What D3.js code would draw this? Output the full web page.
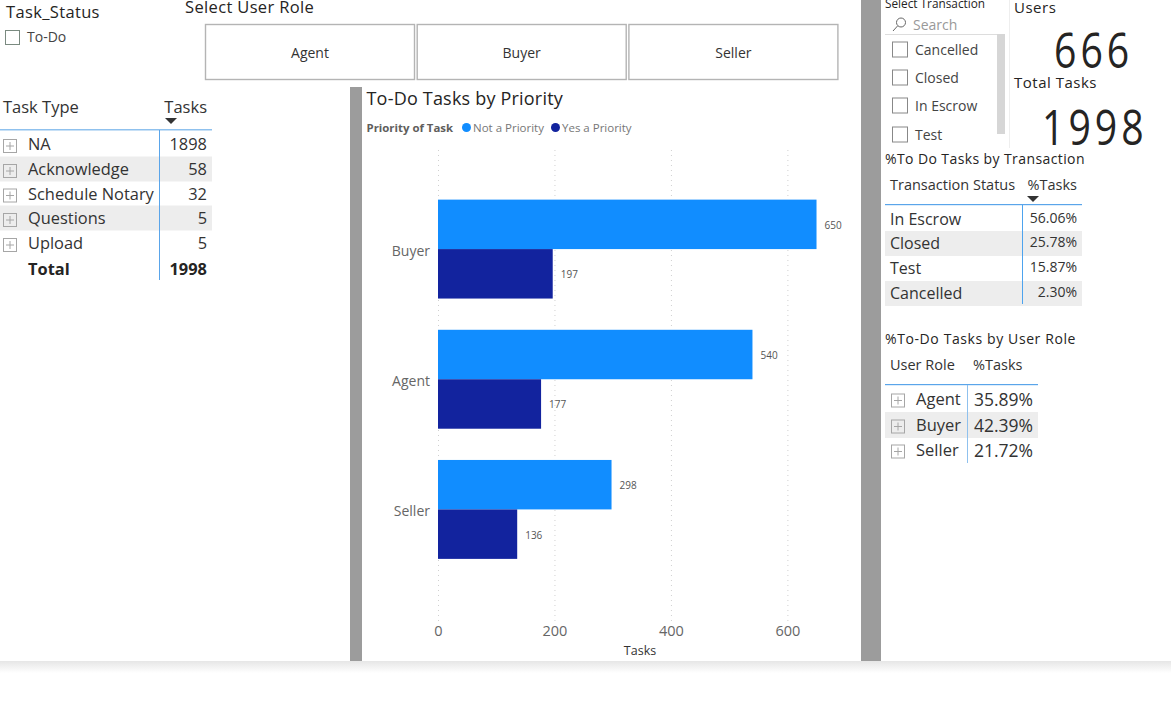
<!DOCTYPE html>
<html><head><meta charset="utf-8">
<script src="https://cdn.jsdelivr.net/npm/d3@7"></script>
<style>html,body{margin:0;padding:0;background:#fff;overflow:hidden}svg{display:block}text{font-family:"Open Sans",sans-serif}</style>
</head><body><svg id="c" width="1171" height="705"></svg>
<script>
const roles=["Buyer","Agent","Seller"];
const notPriority=[650,540,298];
const yesPriority=[197,177,136];
const xTicks=[0,200,400,600];
const roleButtons=["Agent","Buyer","Seller"];
const taskTypes=["NA","Acknowledge","Schedule Notary","Questions","Upload"];
const taskCounts=[1898,58,32,5,5];
const txStatus=["In Escrow","Closed","Test","Cancelled"];
const txPct=["56.06%","25.78%","15.87%","2.30%"];
const txOptions=["Cancelled","Closed","In Escrow","Test"];
const rolePctNames=["Agent","Buyer","Seller"];
const rolePct=["35.89%","42.39%","21.72%"];
const DIN='Roboto,sans-serif', SEG='"Open Sans",sans-serif';
const svg=d3.select("#c");
function T(x,y,s,size,o={}){return svg.append("text").attr("x",x).attr("y",y).text(s).attr("font-size",size)
  .attr("font-family",o.f||SEG).attr("fill",o.c||"#333").attr("text-anchor",o.a||"start").attr("font-weight",o.w||400)
  .attr("letter-spacing",o.ls||null);}
function R(x,y,w,h,fill,o={}){return svg.append("rect").attr("x",x).attr("y",y).attr("width",w).attr("height",h).attr("fill",fill)
  .attr("stroke",o.s||null).attr("stroke-width",o.sw||null);}
function plus(x,y){R(x+.5,y+.5,13,13,"none",{s:"#a6a6a6",sw:1});
  svg.append("path").attr("d",`M${x+3} ${y+7}H${x+11}M${x+7} ${y+3}V${y+11}`).attr("stroke","#a6a6a6").attr("fill","none");}
function caret(x,y){svg.append("path").attr("d",`M${x-6} ${y}H${x+6}L${x} ${y+6}Z`).attr("fill","#333");}
// Large card number: condensed digits with open spacing, like the reference face
function big(x,y,s){T(0,0,s,49,{f:DIN,c:"#252423",w:500,ls:5}).attr("transform",`translate(${x},${y}) scale(.8,1)`);}
// page footer shadow
const g=svg.append("defs").append("linearGradient").attr("id","sh").attr("x2",0).attr("y2",1);
g.append("stop").attr("offset",0).attr("stop-color","#e6e6e6");g.append("stop").attr("offset",1).attr("stop-color","#fff");
R(0,661,1171,12,"url(#sh)");
// separators
R(350,87,12,574,"#9c9c9c");
R(861,0,20,87,"#9c9c9c");R(861,87,20,574,"#9c9c9c");
// Task status slicer
T(6,18,"Task_Status",16.5,{f:DIN,c:"#252423",ls:.35});
R(5.5,30.5,14,14,"#fff",{s:"#7a8a80",sw:1});
T(27,42,"To-Do",14,{c:"#444"});
// Role slicer
T(185,13,"Select User Role",16.5,{f:DIN,c:"#252423",ls:.35});
roleButtons.forEach((d,i)=>{const x=205.5+i*211.7;R(x,24.5,209,55,"#fff",{s:"#b4b4b4",sw:1.4});
  T(x+104.5,58,d,14,{a:"middle",c:"#333"});});
// Task table
T(3,113,"Task Type",16.5);T(207,113,"Tasks",16.5,{a:"end"});caret(171,118);
R(0,129,212,1.5,"#8fc1ee");
const rowY=[144,169,193.5,218,243];
taskTypes.forEach((d,i)=>{ if(i%2)R(0,rowY[i]-12.5,212,25,"#ededed");
  plus(3,rowY[i]-5);T(28,rowY[i]+6,d,16.4,{c:"#333"});T(207,rowY[i]+6,taskCounts[i],16.4,{a:"end",c:"#333"});});
T(28,275,"Total",16.4,{w:700,c:"#252423"});T(207,275,String(d3.sum(taskCounts)),16.4,{a:"end",w:700,c:"#252423"});
R(159,130,1,150,"#5aa5ea");
// Chart
T(366.5,105,"To-Do Tasks by Priority",18,{f:DIN,c:"#252423",ls:.2});
T(366.5,132,"Priority of Task",11.4,{w:700,c:"#605e5c"});
svg.append("circle").attr("cx",466.5).attr("cy",127.5).attr("r",4.5).attr("fill","#118dff");
T(473,132,"Not a Priority",11.5,{c:"#777"});
svg.append("circle").attr("cx",555.5).attr("cy",127.5).attr("r",4.5).attr("fill","#12239e");
T(562,132,"Yes a Priority",11.5,{c:"#777"});
const x=d3.scaleLinear().domain([0,600]).range([438,787.4]);
const y=d3.scaleBand().domain(roles).range([184,574.5]).paddingInner(.24).paddingOuter(.12);
const plot=svg.append("g");
const xa=d3.axisBottom(x).tickValues(xTicks).tickSize(472).tickPadding(0).tickFormat(d3.format("d"));
const gx=plot.append("g").attr("transform","translate(0,150)").call(xa);
gx.select(".domain").remove();
gx.selectAll("line").attr("stroke","#d0d0d0").attr("stroke-dasharray","1,4");
gx.selectAll("text").attr("y",486).attr("dy",0).attr("font-size",14.5).attr("fill","#666").attr("font-family",SEG);
const ya=d3.axisLeft(y).tickSize(0).tickPadding(8);
const gy=plot.append("g").attr("transform","translate(438,2)").call(ya);
gy.select(".domain").remove();
gy.selectAll("text").attr("font-size",14).attr("fill","#666").attr("font-family",SEG);
const bh=y.bandwidth()/2;
[[notPriority,"#118dff",0],[yesPriority,"#12239e",1]].forEach(([vals,col,k])=>{
  plot.selectAll(null).data(roles).join("rect").attr("x",x(0)).attr("y",r=>y(r)+k*bh)
    .attr("width",(r,i)=>x(vals[i])-x(0)).attr("height",bh).attr("fill",col);
  plot.selectAll(null).data(roles).join("text").attr("x",(r,i)=>x(vals[i])+8).attr("y",r=>y(r)+k*bh+bh/2+4.5)
    .text((r,i)=>vals[i]).attr("font-size",10).attr("fill","#555");
});
T(640,655,"Tasks",12.5,{f:DIN,a:"middle",c:"#333",w:500});
// Transaction slicer
T(885,8,"Select Transaction",11.8,{f:DIN,c:"#252423"});
svg.append("circle").attr("cx",901).attr("cy",22.5).attr("r",4.5).attr("fill","none").attr("stroke","#666");
svg.append("path").attr("d","M897.5 26L893 31").attr("stroke","#666").attr("fill","none");
T(913,30,"Search",14,{c:"#999"});
R(885,34,120,1,"#ddd");
R(997,34,8,100,"#d6d6d6");
const optY=[49.5,77.5,105.5,134.5];
txOptions.forEach((d,i)=>{R(892.5,optY[i]-7.5,15,15,"#fff",{s:"#888",sw:1});T(915,optY[i]+5,d,14,{c:"#444"});});
R(1009,0,1,148,"#eee");
// Cards
T(1014,13,"Users",15,{f:DIN,c:"#252423",ls:.5});
big(1054,68,"666");
T(1014,88,"Total Tasks",15,{f:DIN,c:"#252423",ls:.5});
big(1042,145,"1998");
// Transaction table
T(885,164,"%To Do Tasks by Transaction",14,{f:DIN,c:"#252423",w:500,ls:.4});
T(890,190,"Transaction Status",14.5);T(1077,190,"%Tasks",14.5,{a:"end"});caret(1033,196);
R(885,204,197,1.2,"#5aa5ea");
const tY=[219,243,268,293];
txStatus.forEach((d,i)=>{if(i%2)R(885,tY[i]-12,197,25,"#ededed");
  T(890,tY[i]+6,d,16,{c:"#333"});T(1077,tY[i]+4,txPct[i],14,{a:"end",c:"#333"});});
R(1022,205,1,99,"#4da3ee");
// Role table
T(885,344,"%To-Do Tasks by User Role",14,{f:DIN,c:"#252423",w:500,ls:.6});
T(890,370,"User Role",14.5);T(973,370,"%Tasks",14.5);
R(885,384,153,1.2,"#5aa5ea");
const rY=[399,425,450];
rolePctNames.forEach((d,i)=>{if(i%2)R(885,rY[i]-13,153,26,"#ededed");
  plus(891,rY[i]-5.5);T(916,rY[i]+6,d,16.5,{c:"#333"});T(1033,rY[i]+7,rolePct[i],17.5,{a:"end",c:"#333"});});
R(967,385,1,78,"#8fc1ee");
</script></body></html>
